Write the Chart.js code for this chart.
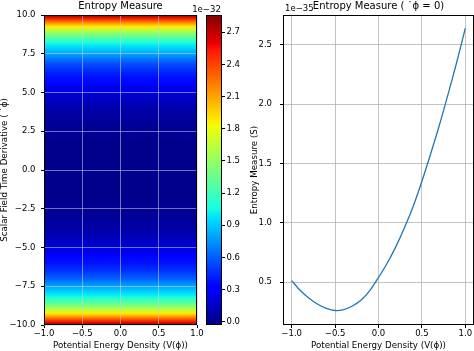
<!DOCTYPE html>
<html><head><meta charset="utf-8">
<script src="https://cdn.jsdelivr.net/npm/chart.js@4"></script>
<style>
html,body{margin:0;padding:0;background:#fff;}
#wrap{position:relative;width:474px;height:351px;overflow:hidden;background:#fff;}
canvas{position:absolute;left:0;top:0;}
</style></head><body>
<div id="wrap">
<canvas id="c1" width="474" height="351"></canvas>
<canvas id="c2" width="474" height="351"></canvas>
<canvas id="c3" width="474" height="351"></canvas>
</div>
<script>
// ---- data ----
// heatmap: entropy (x1e-32) as a function of scalar field time derivative; V(phi) columns span -1..1
const vEdges = [-1, 1];
const vTicks = [-1.0, -0.5, 0.0, 0.5, 1.0];
const phiDotTicks = [-10, -7.5, -5, -2.5, 0, 2.5, 5, 7.5, 10];
const phiDotRows = [-10,-9.75,-9.5,-9.25,-9,-8.75,-8.5,-8.25,-8,-7.75,-7.5,-7.25,-7,-6.5,-6,-5.5,-5,-4.5,-4,-3,-2,-1,0,1,2,3,4,4.5,5,5.5,6,6.5,7,7.25,7.5,7.75,8,8.25,8.5,8.75,9,9.25,9.5,9.75,10];
const entropyRows = [2.86,2.50,2.17,1.88,1.63,1.42,1.25,1.10,0.98,0.89,0.80,0.70,0.60,0.47,0.38,0.29,0.20,0.13,0.08,0.03,0.008,0.001,0,0.001,0.008,0.03,0.08,0.13,0.20,0.29,0.38,0.47,0.60,0.70,0.80,0.89,0.98,1.10,1.25,1.42,1.63,1.88,2.17,2.50,2.86];
const cbarMin = -0.03, cbarMax = 2.86;
const cbarTicks = [0.0, 0.3, 0.6, 0.9, 1.2, 1.5, 1.8, 2.1, 2.4, 2.7];
// line: entropy (x1e-35) at phi_dot = 0
const vLine = [-1.0,-0.9,-0.8,-0.7,-0.6,-0.5,-0.4,-0.3,-0.2,-0.1,0.0,0.1,0.2,0.3,0.4,0.5,0.6,0.7,0.8,0.9,1.0];
const sLine = [0.514,0.43,0.365,0.315,0.28,0.262,0.27,0.30,0.35,0.43,0.54,0.66,0.80,0.96,1.14,1.35,1.58,1.82,2.08,2.35,2.64];
const sTicks = [0.5, 1.0, 1.5, 2.0, 2.5];

const F = "'DejaVu Sans'";
const TICKFONT = {family: F, size: 8.5};
const LABFONT = {family: F, size: 8.7};
const TITLEFONT = {family: F, size: 10, weight: 'normal'};
const fmt = v => (Math.abs(v) < 1e-9 ? 0 : v).toFixed(1).replace('-', '\u2212');

function jet(t) {
  t = Math.max(0, Math.min(1, t));
  const seg = pts => {
    for (let i = 1; i < pts.length; i++) {
      if (t <= pts[i][0]) {
        const [x0, y0] = pts[i-1], [x1, y1] = pts[i];
        return y0 + (y1 - y0) * (t - x0) / (x1 - x0);
      }
    }
    return pts[pts.length-1][1];
  };
  const r = seg([[0,0],[0.35,0],[0.66,1],[0.89,1],[1,0.5]]);
  const g = seg([[0,0],[0.125,0],[0.375,1],[0.64,1],[0.91,0],[1,0]]);
  const b = seg([[0,0.5],[0.11,1],[0.34,1],[0.65,0],[1,0]]);
  return `rgb(${Math.round(r*255)},${Math.round(g*255)},${Math.round(b*255)})`;
}
const jetAnchors = [0,0.11,0.125,0.34,0.35,0.375,0.64,0.65,0.66,0.89,0.91,1];

const framePlugin = {
  id: 'frame',
  afterDraw(chart) {
    const {ctx, chartArea: a} = chart;
    ctx.save();
    ctx.strokeStyle = '#000';
    ctx.lineWidth = 1;
    ctx.strokeRect(Math.round(a.left) + 0.5, Math.round(a.top) + 0.5, Math.round(a.right - a.left) - 1, Math.round(a.bottom - a.top) - 1);
    ctx.restore();
  }
};
function textPlugin(text, x, y, align) {
  return {
    id: 'txt',
    afterDraw(chart) {
      const ctx = chart.ctx;
      ctx.save();
      ctx.fillStyle = '#000';
      ctx.font = `8.5px ${F}`;
      ctx.textAlign = align;
      ctx.textBaseline = 'middle';
      ctx.fillText(text, x, y);
      ctx.restore();
    }
  };
}
const heatPlugin = {
  id: 'heat',
  beforeDraw(chart) {
    const {ctx, scales: {x, y}} = chart;
    const yTop = y.getPixelForValue(y.max), yBot = y.getPixelForValue(y.min);
    const grad = ctx.createLinearGradient(0, yTop, 0, yBot);
    phiDotRows.forEach((p, i) => {
      const py = y.getPixelForValue(p);
      grad.addColorStop(Math.max(0, Math.min(1, (py - yTop) / (yBot - yTop))), jet((entropyRows[i] - cbarMin) / (cbarMax - cbarMin)));
    });
    const xl = x.getPixelForValue(vEdges[0]), xr = x.getPixelForValue(vEdges[1]);
    ctx.save();
    ctx.fillStyle = grad;
    ctx.fillRect(xl, yTop, xr - xl, yBot - yTop);
    ctx.restore();
  }
};
const cbarPlugin = {
  id: 'cbar',
  beforeDraw(chart) {
    const {ctx, chartArea: a, scales: {y}} = chart;
    const yTop = y.getPixelForValue(cbarMax), yBot = y.getPixelForValue(cbarMin);
    const grad = ctx.createLinearGradient(0, yBot, 0, yTop);
    jetAnchors.forEach(t => grad.addColorStop(t, jet(t)));
    ctx.save();
    ctx.fillStyle = grad;
    ctx.fillRect(a.left, yTop, a.right - a.left, yBot - yTop);
    ctx.restore();
  }
};

const base = {
  responsive: false, animation: false, events: [],
};
const setTicks = arr => s => { s.ticks = arr.map(v => ({value: v})); };

// ---- chart 1: heatmap ----
new Chart(document.getElementById('c1'), {
  type: 'scatter',
  data: {datasets: []},
  plugins: [heatPlugin, framePlugin],
  options: Object.assign({}, base, {
    layout: {padding: {left: 0, right: 277, top: 0, bottom: 0}},
    plugins: {
      legend: {display: false}, tooltip: {enabled: false},
      title: {display: true, text: 'Entropy Measure', fullSize: false, color: '#000', font: TITLEFONT, padding: {top: 0, bottom: 3}}
    },
    scales: {
      x: {type: 'linear', min: -1, max: 1, afterBuildTicks: setTicks(vTicks), afterFit: s => { s.height = 26; },
        grid: {color: 'rgba(205,205,215,0.55)', tickColor: '#000', tickLength: 3, lineWidth: 1}, border: {display: false},
        ticks: {color: '#000', font: TICKFONT, padding: 1, maxRotation: 0, autoSkip: false, callback: fmt},
        title: {display: true, text: 'Potential Energy Density (V(\u03d5))', color: '#000', font: LABFONT, padding: 0}},
      y: {type: 'linear', min: -10, max: 10, afterBuildTicks: setTicks(phiDotTicks), afterFit: s => { s.width = 44; },
        grid: {color: 'rgba(205,205,215,0.55)', tickColor: '#000', tickLength: 3, lineWidth: 1}, border: {display: false},
        ticks: {color: '#000', font: TICKFONT, padding: 5.5, autoSkip: false, callback: fmt},
        title: {display: true, text: 'Scalar Field Time Derivative ( \u02d9\u03d5)', color: '#000', font: LABFONT, padding: 0}}
    }
  })
});

// ---- chart 2: colorbar ----
new Chart(document.getElementById('c2'), {
  type: 'scatter',
  data: {datasets: []},
  plugins: [cbarPlugin, framePlugin, textPlugin('1e\u221232', 206.5, 9.5, 'center')],
  options: Object.assign({}, base, {
    layout: {padding: {left: 206, right: 0, top: 15, bottom: 26}},
    plugins: {legend: {display: false}, tooltip: {enabled: false}},
    scales: {
      x: {type: 'linear', display: false, min: 0, max: 1},
      y: {type: 'linear', position: 'right', min: cbarMin, max: cbarMax, afterBuildTicks: setTicks(cbarTicks), afterFit: s => { s.width = 252; },
        grid: {display: true, drawOnChartArea: false, tickColor: '#000', tickLength: 3}, border: {display: false},
        ticks: {color: '#000', font: TICKFONT, padding: 1.5, autoSkip: false, callback: fmt}}
    }
  })
});

// ---- chart 3: line ----
new Chart(document.getElementById('c3'), {
  type: 'scatter',
  data: {datasets: [{
    data: vLine.map((v, i) => ({x: v, y: sLine[i]})),
    showLine: true, borderColor: '#1f77b4', borderWidth: 1.3, pointRadius: 0, tension: 0.3, fill: false
  }]},
  plugins: [framePlugin, textPlugin('1e\u221235', 285, 8.5, 'left')],
  options: Object.assign({}, base, {
    layout: {padding: {left: 240, right: 0, top: 0, bottom: 0}},
    plugins: {
      legend: {display: false}, tooltip: {enabled: false},
      title: {display: true, text: 'Entropy Measure ( \u02d9\u03d5 = 0)', fullSize: false, color: '#000', font: TITLEFONT, padding: {top: 0, bottom: 3}}
    },
    scales: {
      x: {type: 'linear', min: -1.1, max: 1.1, afterBuildTicks: setTicks(vTicks), afterFit: s => { s.height = 26; },
        grid: {color: 'rgba(176,176,176,0.75)', tickColor: '#000', tickLength: 3, lineWidth: 1}, border: {display: false},
        ticks: {color: '#000', font: TICKFONT, padding: 1, maxRotation: 0, autoSkip: false, callback: fmt},
        title: {display: true, text: 'Potential Energy Density (V(\u03d5))', color: '#000', font: LABFONT, padding: 0}},
      y: {type: 'linear', min: 0.14, max: 2.75, afterBuildTicks: setTicks(sTicks), afterFit: s => { s.width = 43; },
        grid: {color: 'rgba(176,176,176,0.75)', tickColor: '#000', tickLength: 3, lineWidth: 1}, border: {display: false},
        ticks: {color: '#000', font: TICKFONT, padding: 8, autoSkip: false, callback: fmt},
        title: {display: true, text: 'Entropy Measure (S)', color: '#000', font: LABFONT, padding: {top: 10, bottom: 0}}}
    }
  })
});
</script>
</body></html>
